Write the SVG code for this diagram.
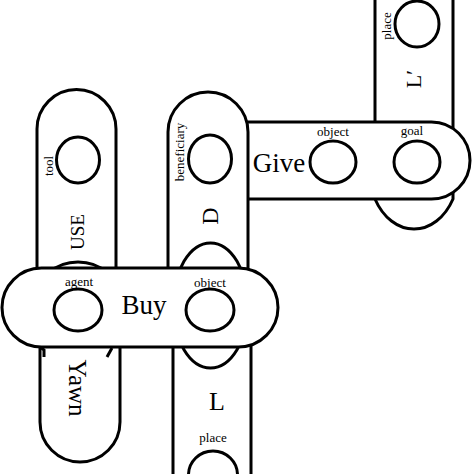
<svg xmlns="http://www.w3.org/2000/svg" width="474" height="474" viewBox="0 0 474 474">
<style>
.p{fill:#fff;stroke:#000;stroke-width:3}
.r{fill:none;stroke:#000;stroke-width:3}
.h{fill:#fff;stroke:#000;stroke-width:3}
.t{font-family:"Liberation Serif","DejaVu Serif",serif;fill:#000;text-anchor:middle;dominant-baseline:central}
.s{font-size:13px}
.b{font-size:27px}
</style>
<rect width="474" height="474" fill="#fff"/>
<g id="Lprime">
<path class="p" d="M375,-10 V199 A45 60 0 0 0 453,199 V-10"/>
<ellipse class="h" cx="417" cy="24" rx="22" ry="23"/>
<text class="t s" transform="translate(386,26) rotate(-90)">place</text>
<text class="t" font-size="22" transform="translate(413,79) rotate(-90)">L′</text>
</g>
<g id="Give">
<path class="p" d="M230,122 H431.5 A38.5 38.5 0 0 1 431.5,199 H230 Z"/>
<text class="t b" x="279" y="163">Give</text>
<ellipse class="h" cx="333" cy="162" rx="23" ry="21"/>
<text class="t s" x="333" y="131">object</text>
<ellipse class="h" cx="417" cy="162" rx="23" ry="21"/>
<text class="t s" x="412" y="130">goal</text>
</g>
<g id="D">
<path class="p" d="M168,300 V132 A40 40 0 0 1 248,132 V300 Z"/>
<ellipse class="h" cx="210" cy="159" rx="21.5" ry="24"/>
<text class="t s" transform="translate(179,152) rotate(-90)">beneficiary</text>
<text class="t" font-size="24" transform="translate(210,216) rotate(-90)">D</text>
</g>
<g id="L">
<rect class="p" x="173" y="320" width="78" height="170"/>
<text class="t" font-size="26" x="217" y="401">L</text>
<text class="t s" x="213" y="437">place</text>
<ellipse class="h" cx="213" cy="475" rx="24.5" ry="24"/>
</g>
<g id="USE">
<path class="p" d="M37,300 V129 A39.5 39.5 0 0 1 116,129 V300"/>
<ellipse class="h" cx="78" cy="160" rx="21.5" ry="23"/>
<text class="t s" transform="translate(48,166) rotate(-90)">tool</text>
<text class="t" font-size="19" transform="translate(77,232) rotate(-90)">USE</text>
</g>
<g id="Yawn">
<path class="p" d="M40,320 V422 A40 40 0 0 0 120,422 V320"/>
<text class="t" font-size="25" transform="translate(77,388) rotate(90)">Yawn</text>
</g>
<g id="connectors">
<ellipse class="r" cx="210.5" cy="305.5" rx="37.5" ry="62.5"/>
<ellipse class="r" cx="78" cy="298" rx="41" ry="36"/>
<path class="r" d="M44,357 L44,350 L40,347 M112,348 L107,357"/>
</g>
<g id="Buy">
<rect class="p" x="2" y="268" width="276" height="79" rx="39.5" ry="39.5"/>
<ellipse class="h" cx="78" cy="310" rx="24" ry="21"/>
<text class="t s" x="79" y="281">agent</text>
<ellipse class="h" cx="210" cy="310" rx="24" ry="21"/>
<text class="t s" x="210" y="282">object</text>
<text class="t b" x="144" y="305">Buy</text>
</g>
</svg>
